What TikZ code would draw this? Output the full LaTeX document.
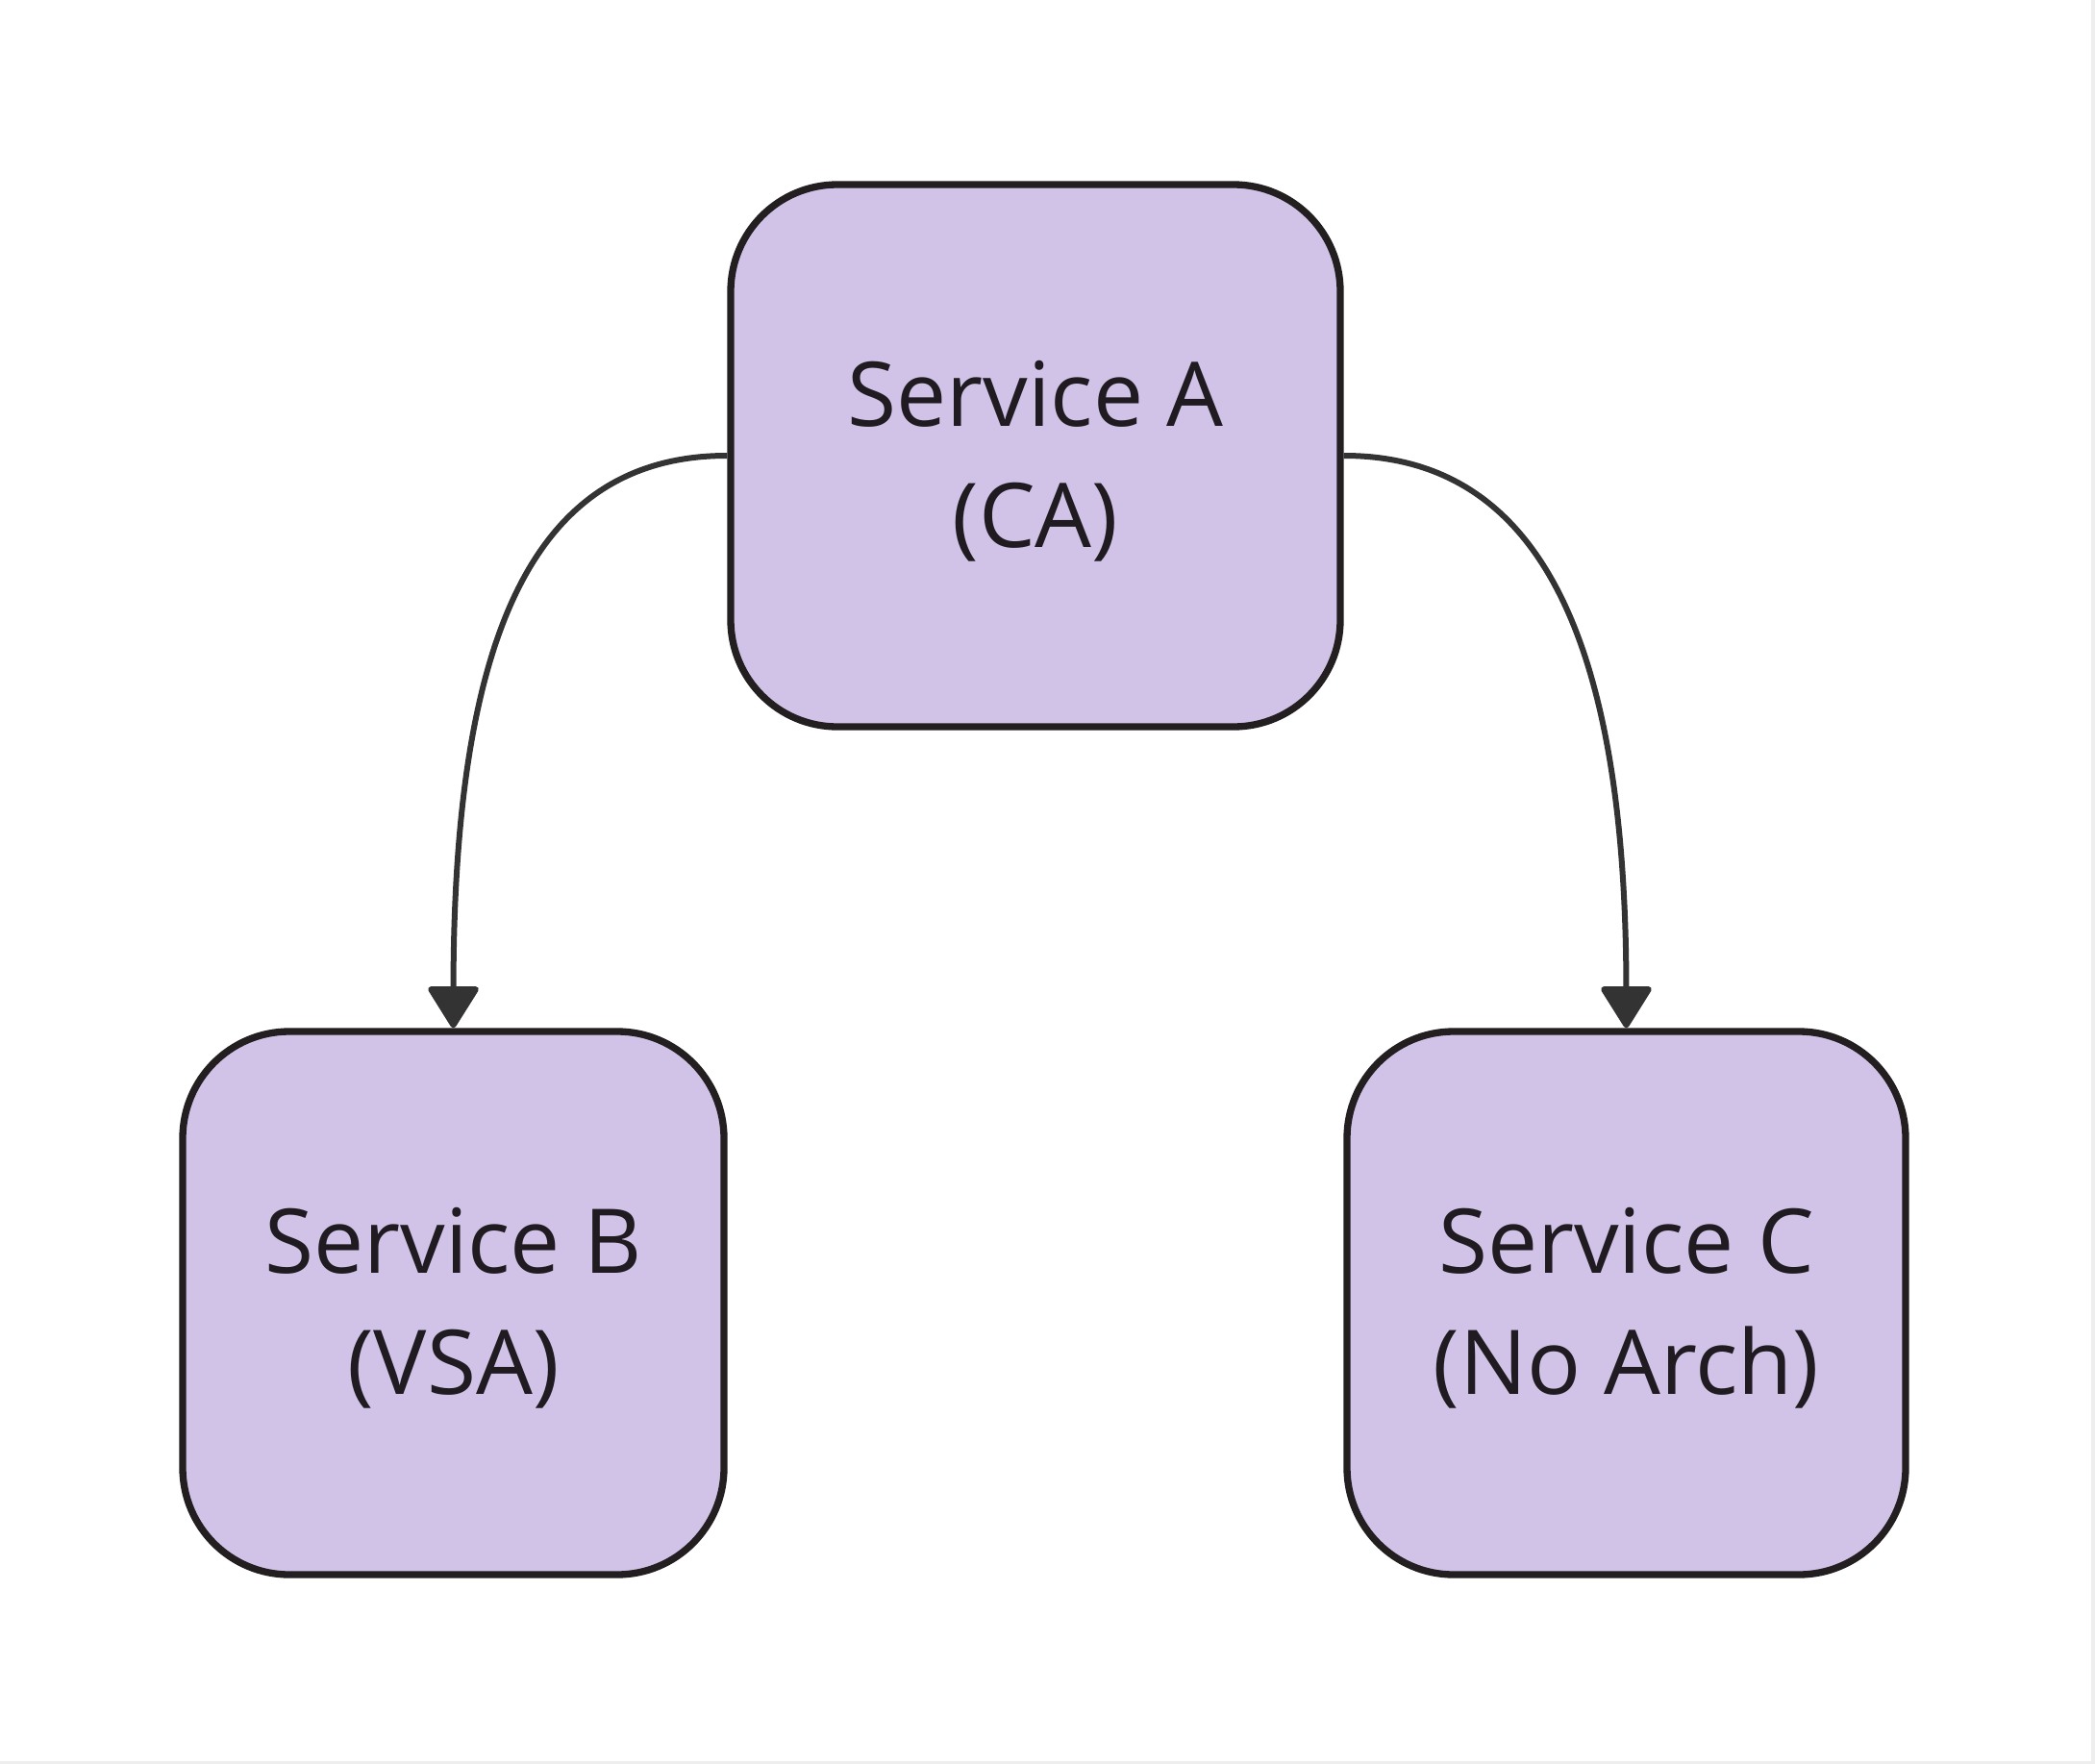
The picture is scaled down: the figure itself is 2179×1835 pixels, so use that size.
\documentclass[tikz,border=0pt]{standalone}
\usepackage{fontspec}
\setmainfont{Open Sans}
\usetikzlibrary{arrows.meta}
\definecolor{boxfill}{HTML}{D1C2E8}
\definecolor{boxline}{HTML}{231F20}
\definecolor{edgeline}{HTML}{333333}
\definecolor{textcol}{HTML}{1F1B20}
\definecolor{frame}{HTML}{EEEEEE}
\newcommand{\svclabel}[2]{\raisebox{-7pt}[\height][\depth]{\begin{tabular}{@{}c@{}}#1\\#2\end{tabular}}}
\begin{document}
\begin{tikzpicture}[x=1pt,y=-1pt,
  svc/.style={draw=boxline, fill=boxfill, line width=7.3pt, rounded corners=111pt,
    text=textcol, inner sep=0pt,
    font=\fontsize{93}{126}\selectfont},
  flow/.style={draw=edgeline, line width=6pt,
    -{Triangle[length=46pt,width=56pt,round]}}]
\useasboundingbox (0,0) rectangle (2179,1835);
\fill[white] (0,0) rectangle (2179,1835);
\fill[frame] (2175,0) rectangle (2179,1835);
\fill[frame] (0,1832) rectangle (2179,1835);
\node[svc, minimum width=634pt, minimum height=564pt] (A) at (1077,474) {\svclabel{Service A}{(CA)}};
\node[svc, minimum width=563pt, minimum height=565pt] (B) at (471.5,1355.5) {\svclabel{Service B}{(VSA)}};
\node[svc, minimum width=581pt, minimum height=565pt] (C) at (1691.5,1355.5) {\svclabel{Service C}{(No Arch)}};
\draw[flow] (A.west) .. controls (555,474) and (472,660) .. (B.north);
\draw[flow] (A.east) .. controls (1598,474) and (1691,660) .. (C.north);
\end{tikzpicture}
\end{document}
